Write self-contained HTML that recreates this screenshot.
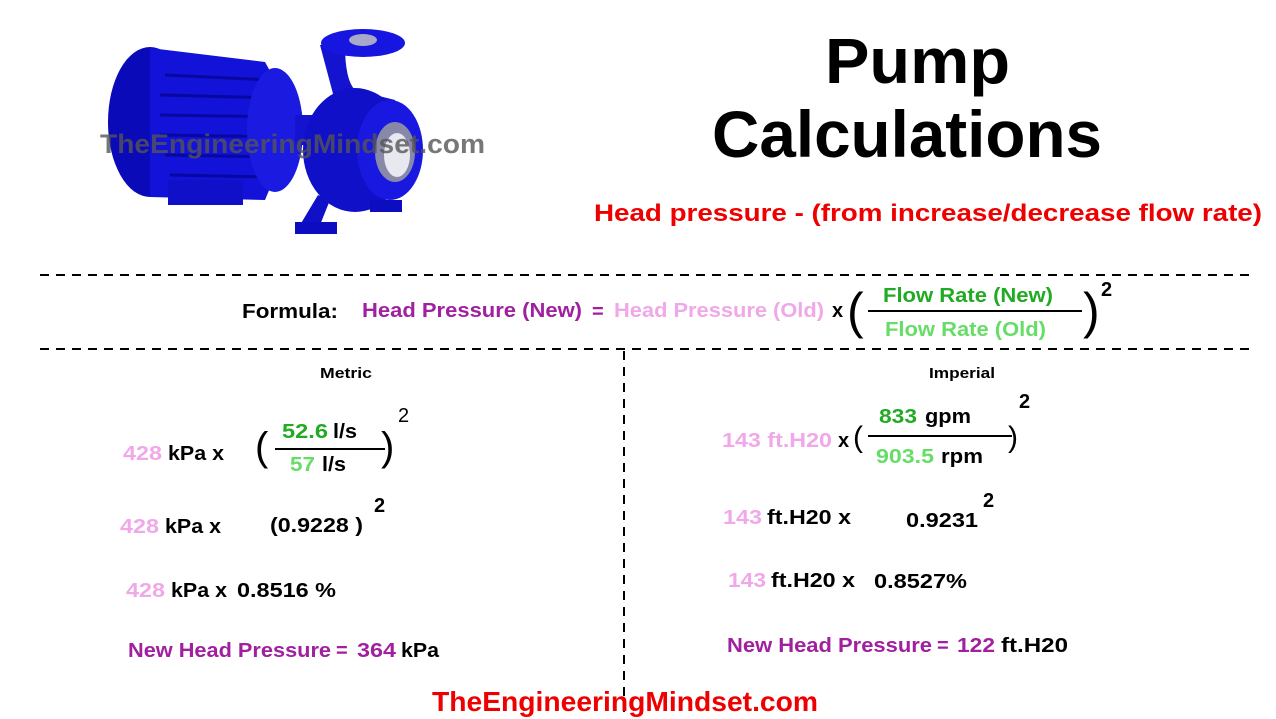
<!DOCTYPE html>
<html><head><meta charset="utf-8"><style>
html,body{margin:0;padding:0;background:#fff;width:1276px;height:719px;overflow:hidden}
svg{display:block}
text{font-family:"Liberation Sans",sans-serif;font-weight:bold}
</style></head><body>
<svg width="1276" height="719" viewBox="0 0 1276 719" xmlns="http://www.w3.org/2000/svg">
<rect width="1276" height="719" fill="#fff"/>
<!-- pump illustration -->
<g>
  <ellipse cx="150" cy="122" rx="42" ry="75" fill="#0a0ab8"/>
  <path d="M150 48 L265 62 Q300 120 265 200 L150 197 Z" fill="#1212d8"/>
  <g stroke="#0808a0" stroke-width="3">
    <line x1="165" y1="75" x2="270" y2="80"/><line x1="160" y1="95" x2="280" y2="98"/>
    <line x1="160" y1="115" x2="285" y2="117"/><line x1="160" y1="135" x2="285" y2="137"/>
    <line x1="165" y1="155" x2="280" y2="157"/><line x1="170" y1="175" x2="270" y2="177"/>
  </g>
  <ellipse cx="275" cy="130" rx="28" ry="62" fill="#1a1ae0"/>
  <rect x="168" y="180" width="75" height="25" fill="#1010c8"/>
  <rect x="295" y="115" width="40" height="30" fill="#1414d0"/>
  <path d="M320 45 L345 45 Q345 80 355 90 L395 100 L400 130 L340 120 Z" fill="#1414d0"/>
  <ellipse cx="363" cy="43" rx="42" ry="14" fill="#1616e0"/>
  <ellipse cx="363" cy="40" rx="14" ry="6" fill="#a8a8c8"/>
  <ellipse cx="355" cy="150" rx="52" ry="62" fill="#1010c8"/>
  <ellipse cx="390" cy="150" rx="33" ry="50" fill="#1818e0"/>
  <ellipse cx="395" cy="152" rx="20" ry="30" fill="#8888a8"/>
  <ellipse cx="397" cy="155" rx="13" ry="22" fill="#e8e8f0"/>
  <path d="M300 225 L318 195 L330 200 L320 225 Z" fill="#1010c8"/>
  <rect x="295" y="222" width="42" height="12" fill="#0c0cc0"/>
  <rect x="370" y="200" width="32" height="12" fill="#0c0cc0"/>
</g>
<text x="100" y="153" font-size="27" fill="#555" fill-opacity="0.8" textLength="385" lengthAdjust="spacingAndGlyphs">TheEngineeringMindset.com</text>

<text x="825" y="83" font-size="64" fill="#000" textLength="185" lengthAdjust="spacingAndGlyphs">Pump</text>
<text x="712" y="157" font-size="66" fill="#000" textLength="390" lengthAdjust="spacingAndGlyphs">Calculations</text>
<text x="594" y="221" font-size="24" fill="#ee0000" textLength="668" lengthAdjust="spacingAndGlyphs">Head pressure - (from increase/decrease flow rate)</text>

<g stroke="#000" stroke-width="2" stroke-dasharray="9,7">
  <line x1="40" y1="275" x2="1252" y2="275"/>
  <line x1="40" y1="349" x2="1252" y2="349"/>
  <line x1="624" y1="351" x2="624" y2="719"/>
</g>

<!-- formula -->
<text x="242" y="318" font-size="20" fill="#000" textLength="96" lengthAdjust="spacingAndGlyphs">Formula:</text>
<text x="362" y="317" font-size="20" fill="#a020a0" textLength="220" lengthAdjust="spacingAndGlyphs">Head Pressure (New)</text>
<text x="592" y="318" font-size="20" fill="#a020a0">=</text>
<text x="614" y="317" font-size="20" fill="#f0a8e8" textLength="210" lengthAdjust="spacingAndGlyphs">Head Pressure (Old)</text>
<text x="832" y="317" font-size="20" fill="#000">x</text>
<text x="847" y="328" font-size="50" font-weight="normal" fill="#000" style="font-weight:normal">(</text>
<text x="883" y="302" font-size="20" fill="#22aa22" textLength="170" lengthAdjust="spacingAndGlyphs">Flow Rate (New)</text>
<line x1="868" y1="311" x2="1082" y2="311" stroke="#000" stroke-width="2"/>
<text x="885" y="336" font-size="20" fill="#66dd66" textLength="161" lengthAdjust="spacingAndGlyphs">Flow Rate (Old)</text>
<text x="1083" y="328" font-size="50" fill="#000" style="font-weight:normal">)</text>
<text x="1101" y="296" font-size="20" fill="#000">2</text>

<text x="320" y="378" font-size="15" fill="#000" textLength="52" lengthAdjust="spacingAndGlyphs">Metric</text>
<text x="929" y="378" font-size="15" fill="#000" textLength="66" lengthAdjust="spacingAndGlyphs">Imperial</text>

<!-- metric -->
<text x="123" y="460" font-size="20" fill="#f0a8e8" textLength="39" lengthAdjust="spacingAndGlyphs">428</text>
<text x="168" y="460" font-size="20" fill="#000" textLength="56" lengthAdjust="spacingAndGlyphs">kPa x</text>
<text x="255" y="460" font-size="40" fill="#000" style="font-weight:normal">(</text>
<text x="282" y="438" font-size="20" fill="#22aa22" textLength="46" lengthAdjust="spacingAndGlyphs">52.6</text>
<text x="333" y="438" font-size="20" fill="#000" textLength="24" lengthAdjust="spacingAndGlyphs">l/s</text>
<line x1="275" y1="449" x2="385" y2="449" stroke="#000" stroke-width="2"/>
<text x="290" y="471" font-size="20" fill="#66dd66" textLength="25" lengthAdjust="spacingAndGlyphs">57</text>
<text x="322" y="471" font-size="20" fill="#000" textLength="24" lengthAdjust="spacingAndGlyphs">l/s</text>
<text x="381" y="460" font-size="40" fill="#000" style="font-weight:normal">)</text>
<text x="398" y="422" font-size="20" fill="#000" style="font-weight:normal">2</text>

<text x="120" y="533" font-size="20" fill="#f0a8e8" textLength="39" lengthAdjust="spacingAndGlyphs">428</text>
<text x="165" y="533" font-size="20" fill="#000" textLength="56" lengthAdjust="spacingAndGlyphs">kPa x</text>
<text x="270" y="532" font-size="20" fill="#000" textLength="93" lengthAdjust="spacingAndGlyphs">(0.9228 )</text>
<text x="374" y="512" font-size="20" fill="#000">2</text>

<text x="126" y="597" font-size="20" fill="#f0a8e8" textLength="39" lengthAdjust="spacingAndGlyphs">428</text>
<text x="171" y="597" font-size="20" fill="#000" textLength="56" lengthAdjust="spacingAndGlyphs">kPa x</text>
<text x="237" y="597" font-size="20" fill="#000" textLength="99" lengthAdjust="spacingAndGlyphs">0.8516 %</text>

<text x="128" y="657" font-size="20" fill="#a020a0" textLength="203" lengthAdjust="spacingAndGlyphs">New Head Pressure</text>
<text x="336" y="657" font-size="20" fill="#a020a0">=</text>
<text x="357" y="657" font-size="20" fill="#a020a0" textLength="39" lengthAdjust="spacingAndGlyphs">364</text>
<text x="401" y="657" font-size="20" fill="#000" textLength="38" lengthAdjust="spacingAndGlyphs">kPa</text>

<!-- imperial -->
<text x="722" y="447" font-size="20" fill="#f0a8e8" textLength="110" lengthAdjust="spacingAndGlyphs">143 ft.H20</text>
<text x="838" y="447" font-size="20" fill="#000">x</text>
<text x="853" y="447" font-size="30" fill="#000" style="font-weight:normal">(</text>
<text x="879" y="423" font-size="20" fill="#22aa22" textLength="38" lengthAdjust="spacingAndGlyphs">833</text>
<text x="925" y="423" font-size="20" fill="#000" textLength="46" lengthAdjust="spacingAndGlyphs">gpm</text>
<line x1="868" y1="436" x2="1012" y2="436" stroke="#000" stroke-width="2"/>
<text x="876" y="463" font-size="20" fill="#66dd66" textLength="58" lengthAdjust="spacingAndGlyphs">903.5</text>
<text x="941" y="463" font-size="20" fill="#000" textLength="42" lengthAdjust="spacingAndGlyphs">rpm</text>
<text x="1008" y="447" font-size="30" fill="#000" style="font-weight:normal">)</text>
<text x="1019" y="408" font-size="20" fill="#000">2</text>

<text x="723" y="524" font-size="20" fill="#f0a8e8" textLength="39" lengthAdjust="spacingAndGlyphs">143</text>
<text x="767" y="524" font-size="20" fill="#000" textLength="84" lengthAdjust="spacingAndGlyphs">ft.H20 x</text>
<text x="906" y="527" font-size="20" fill="#000" textLength="72" lengthAdjust="spacingAndGlyphs">0.9231</text>
<text x="983" y="507" font-size="20" fill="#000">2</text>

<text x="728" y="587" font-size="20" fill="#f0a8e8" textLength="38" lengthAdjust="spacingAndGlyphs">143</text>
<text x="771" y="587" font-size="20" fill="#000" textLength="84" lengthAdjust="spacingAndGlyphs">ft.H20 x</text>
<text x="874" y="588" font-size="20" fill="#000" textLength="93" lengthAdjust="spacingAndGlyphs">0.8527%</text>

<text x="727" y="652" font-size="20" fill="#a020a0" textLength="205" lengthAdjust="spacingAndGlyphs">New Head Pressure</text>
<text x="937" y="652" font-size="20" fill="#a020a0">=</text>
<text x="957" y="652" font-size="20" fill="#a020a0" textLength="38" lengthAdjust="spacingAndGlyphs">122</text>
<text x="1001" y="652" font-size="20" fill="#000" textLength="67" lengthAdjust="spacingAndGlyphs">ft.H20</text>

<text x="432" y="711" font-size="28" fill="#ee0000" textLength="386" lengthAdjust="spacingAndGlyphs">TheEngineeringMindset.com</text>
</svg>
</body></html>
